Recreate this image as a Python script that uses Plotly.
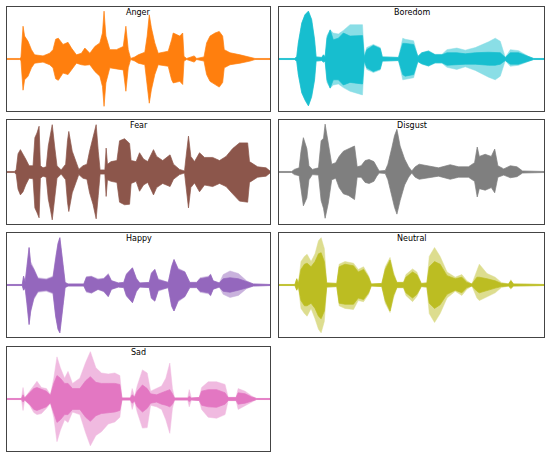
import plotly.graph_objects as go

# -----------------------------
# data: amplitude envelopes
# t = position in clip (% of duration), values = amplitude (fraction of full scale)
# -----------------------------

EMOTIONS = ["Anger", "Boredom", "Fear", "Disgust", "Happy", "Neutral", "Sad"]
COLORS = ["#ff7f0e", "#17becf", "#8c564b", "#7f7f7f", "#9467bd", "#bcbd22", "#e377c2"]

ANGER_T = [0, 4.8, 5.3, 5.6, 6.1, 6.7, 8.0, 9.3, 10.5, 13.7, 16.2, 17.5, 18.5, 19.5, 21.3, 23.2,
           24.5, 26.4, 28.3, 29.6, 31.5, 33.4, 35.3, 36.3, 36.9, 37.6, 39.1, 41.6, 44.2, 45.2,
           46.1, 47.0, 48.6, 49.9, 52.4, 53.3, 54.1, 54.9, 56.2, 57.5, 61.3, 62.6, 63.2, 65.7,
           66.8, 67.3, 68.3, 71.2, 72.1, 74.9, 75.9, 77.2, 79.1, 80.7, 82.0, 82.6, 84.8, 88.6,
           92.4, 94.3, 100]
ANGER_HI = [0.01, 0.01, 0.03, 0.31, 0.63, 0.44, 0.34, 0.18, 0.08, 0.06, 0.11, 0.18, 0.38, 0.40,
            0.28, 0.32, 0.21, 0.08, 0.11, 0.21, 0.11, 0.24, 0.31, 0.50, 0.92, 0.44, 0.18, 0.18,
            0.24, 0.63, 0.18, 0.01, 0.04, 0.08, 0.13, 0.44, 0.85, 0.60, 0.31, 0.11, 0.15, 0.37,
            0.50, 0.44, 0.50, 0.05, 0.01, 0.06, 0.01, 0.04, 0.31, 0.44, 0.50, 0.53, 0.44, 0.18,
            0.12, 0.08, 0.04, 0.01, 0.01]
ANGER_LO = [-0.01, -0.01, -0.03, -0.30, -0.60, -0.40, -0.33, -0.17, -0.08, -0.06, -0.11, -0.17,
            -0.38, -0.41, -0.27, -0.30, -0.20, -0.08, -0.11, -0.12, -0.11, -0.24, -0.33, -0.53,
            -0.91, -0.46, -0.17, -0.19, -0.21, -0.62, -0.17, -0.01, -0.04, -0.08, -0.11, -0.46,
            -0.85, -0.59, -0.30, -0.11, -0.14, -0.40, -0.46, -0.43, -0.49, -0.04, -0.01, -0.06,
            -0.01, -0.04, -0.30, -0.43, -0.49, -0.54, -0.45, -0.17, -0.11, -0.08, -0.04, -0.01,
            -0.01]

BOREDOM_T = [0, 6.0, 6.7, 7.3, 8.6, 9.8, 11.1, 12.3, 13.4, 14.0, 16.1, 16.8, 17.4, 18.1, 19.3,
             20.5, 22.4, 24.3, 26.8, 29.3, 31.5, 32.2, 33.1, 35.6, 38.2, 39.0, 45.1, 46.7, 47.6,
             50.8, 52.4, 53.9, 56.4, 58.9, 61.5, 63.4, 67.1, 70.3, 74.1, 79.1, 81.6, 83.5, 85.4,
             87.3, 90.4, 94.2, 96.1, 100]
BOREDOM_HI = [0.01, 0.01, 0.05, 0.31, 0.69, 0.85, 0.92, 0.76, 0.37, 0.04, 0.03, 0.08, 0.04, 0.40,
              0.56, 0.37, 0.40, 0.50, 0.44, 0.44, 0.45, 0.04, 0.18, 0.26, 0.20, 0.04, 0.03, 0.30,
              0.30, 0.28, 0.05, 0.12, 0.15, 0.08, 0.08, 0.12, 0.12, 0.10, 0.12, 0.13, 0.13, 0.12,
              0.03, 0.12, 0.12, 0.04, 0.01, 0.01]
BOREDOM_LO = [-0.01, -0.01, -0.05, -0.30, -0.65, -0.78, -0.90, -0.72, -0.40, -0.04, -0.03, -0.06,
              -0.04, -0.40, -0.56, -0.40, -0.40, -0.50, -0.45, -0.47, -0.48, -0.04, -0.17, -0.24,
              -0.19, -0.04, -0.03, -0.30, -0.33, -0.30, -0.05, -0.09, -0.13, -0.07, -0.07, -0.12,
              -0.11, -0.10, -0.10, -0.12, -0.12, -0.10, -0.03, -0.10, -0.10, -0.04, -0.01, -0.01]
BOREDOM_SOFT_HI = [0.01, 0.01, 0.05, 0.31, 0.69, 0.85, 0.92, 0.76, 0.40, 0.04, 0.03, 0.08, 0.04,
                   0.45, 0.56, 0.50, 0.48, 0.55, 0.66, 0.66, 0.66, 0.05, 0.22, 0.28, 0.22, 0.04,
                   0.03, 0.40, 0.38, 0.35, 0.05, 0.12, 0.16, 0.09, 0.09, 0.18, 0.21, 0.17, 0.22,
                   0.33, 0.40, 0.34, 0.03, 0.18, 0.16, 0.05, 0.01, 0.01]
BOREDOM_SOFT_LO = [-0.01, -0.01, -0.05, -0.30, -0.65, -0.80, -0.90, -0.74, -0.42, -0.04, -0.03,
                   -0.06, -0.04, -0.45, -0.56, -0.50, -0.48, -0.55, -0.62, -0.66, -0.69, -0.05,
                   -0.20, -0.26, -0.21, -0.04, -0.03, -0.40, -0.40, -0.36, -0.05, -0.10, -0.14,
                   -0.08, -0.08, -0.16, -0.20, -0.15, -0.22, -0.35, -0.40, -0.33, -0.03, -0.14,
                   -0.12, -0.05, -0.01, -0.01]

FEAR_T = [0, 2.9, 3.5, 4.2, 5.1, 6.1, 7.1, 8.4, 9.9, 10.6, 11.4, 12.2, 12.7, 13.7, 14.9, 15.7,
          16.5, 17.2, 18.1, 19.0, 20.6, 22.3, 23.0, 23.5, 24.8, 26.3, 27.3, 28.9, 30.4, 31.4,
          32.7, 33.9, 34.7, 35.4, 37.2, 37.7, 38.2, 39.6, 41.8, 42.8, 44.7, 46.6, 47.2, 49.1,
          50.4, 51.9, 53.5, 55.7, 56.9, 59.2, 62.0, 63.3, 65.6, 67.5, 68.1, 69.0, 69.9, 71.3,
          73.2, 75.1, 78.2, 80.8, 83.3, 85.8, 88.4, 91.5, 92.2, 95.3, 98.5, 100]
FEAR_HI = [0.01, 0.01, 0.05, 0.35, 0.43, 0.35, 0.25, 0.12, 0.12, 0.66, 0.75, 0.88, 0.12, 0.08,
           0.10, 0.50, 0.70, 0.91, 0.50, 0.12, 0.04, 0.15, 0.60, 0.78, 0.40, 0.20, 0.05, 0.12,
           0.15, 0.40, 0.65, 0.91, 0.40, 0.04, 0.04, 0.46, 0.15, 0.20, 0.22, 0.60, 0.64, 0.55,
           0.22, 0.20, 0.37, 0.25, 0.20, 0.43, 0.30, 0.22, 0.33, 0.15, 0.05, 0.02, 0.30, 0.69,
           0.30, 0.20, 0.37, 0.28, 0.28, 0.22, 0.30, 0.45, 0.56, 0.56, 0.20, 0.10, 0.08, 0.02]
FEAR_LO = [-0.01, -0.01, -0.05, -0.33, -0.44, -0.38, -0.25, -0.12, -0.13, -0.69, -0.78, -0.88,
           -0.12, -0.08, -0.10, -0.52, -0.72, -0.92, -0.55, -0.12, -0.04, -0.15, -0.58, -0.76,
           -0.40, -0.18, -0.05, -0.12, -0.14, -0.40, -0.62, -0.90, -0.45, -0.04, -0.04, -0.47,
           -0.15, -0.18, -0.20, -0.58, -0.63, -0.62, -0.22, -0.18, -0.37, -0.25, -0.20, -0.44,
           -0.30, -0.22, -0.28, -0.14, -0.05, -0.02, -0.30, -0.69, -0.30, -0.21, -0.38, -0.25,
           -0.28, -0.22, -0.28, -0.42, -0.56, -0.58, -0.20, -0.10, -0.08, -0.02]

DISGUST_T = [0, 4.8, 5.8, 7.6, 8.3, 9.2, 10.5, 11.3, 12.6, 14.9, 15.9, 16.8, 17.4, 18.6, 19.9,
             21.4, 22.7, 24.3, 26.2, 28.5, 29.5, 31.0, 32.5, 34.0, 35.8, 36.9, 37.8, 40.1, 41.1,
             42.6, 43.6, 44.5, 45.7, 47.4, 48.9, 50.1, 51.4, 52.9, 56.4, 60.2, 64.6, 67.8, 71.5,
             73.8, 74.8, 75.6, 77.8, 80.1, 81.4, 82.6, 84.8, 87.3, 89.8, 91.9, 100]
DISGUST_HI = [0.01, 0.01, 0.05, 0.08, 0.40, 0.66, 0.45, 0.12, 0.05, 0.08, 0.60, 0.65, 0.92, 0.55,
              0.15, 0.18, 0.30, 0.40, 0.45, 0.50, 0.10, 0.12, 0.22, 0.24, 0.20, 0.10, 0.02, 0.03,
              0.15, 0.47, 0.70, 0.82, 0.50, 0.25, 0.10, 0.02, 0.10, 0.15, 0.11, 0.08, 0.14, 0.10,
              0.10, 0.18, 0.48, 0.30, 0.34, 0.30, 0.44, 0.12, 0.06, 0.12, 0.10, 0.02, 0.01]
DISGUST_LO = [-0.01, -0.01, -0.05, -0.07, -0.35, -0.65, -0.50, -0.15, -0.05, -0.06, -0.55, -0.70,
              -0.89, -0.60, -0.15, -0.12, -0.30, -0.42, -0.45, -0.53, -0.10, -0.10, -0.20, -0.22,
              -0.18, -0.08, -0.02, -0.03, -0.15, -0.45, -0.68, -0.81, -0.55, -0.25, -0.10, -0.02,
              -0.10, -0.14, -0.11, -0.08, -0.14, -0.10, -0.10, -0.18, -0.48, -0.32, -0.35, -0.30,
              -0.40, -0.10, -0.06, -0.11, -0.09, -0.02, -0.01]

HAPPY_T = [0, 5.8, 6.3, 6.9, 7.6, 8.4, 9.0, 10.2, 11.8, 14.9, 17.5, 18.5, 19.4, 20.1, 21.1, 22.1,
           23.2, 29.2, 30.2, 32.1, 34.6, 36.8, 38.5, 39.7, 42.3, 44.4, 45.4, 47.7, 49.2, 50.5,
           54.1, 54.9, 56.2, 57.5, 61.3, 62.6, 63.5, 65.1, 67.6, 69.5, 72.1, 73.4, 76.6, 77.4,
           78.4, 80.7, 82.2, 84.8, 88.0, 91.1, 93.7, 100]
HAPPY_HI = [0.01, 0.01, 0.17, 0.06, 0.35, 0.72, 0.40, 0.30, 0.12, 0.10, 0.15, 0.55, 0.80, 0.91,
            0.45, 0.05, 0.02, 0.02, 0.15, 0.16, 0.10, 0.12, 0.20, 0.08, 0.04, 0.05, 0.20, 0.33,
            0.12, 0.04, 0.05, 0.22, 0.30, 0.10, 0.05, 0.35, 0.49, 0.30, 0.25, 0.05, 0.05, 0.12,
            0.15, 0.20, 0.08, 0.04, 0.12, 0.14, 0.12, 0.06, 0.02, 0.01]
HAPPY_LO = [-0.01, -0.01, -0.10, -0.06, -0.35, -0.76, -0.50, -0.25, -0.12, -0.10, -0.15, -0.60,
            -0.85, -0.92, -0.50, -0.05, -0.02, -0.02, -0.12, -0.15, -0.08, -0.12, -0.22, -0.08,
            -0.04, -0.05, -0.20, -0.34, -0.12, -0.04, -0.05, -0.25, -0.31, -0.10, -0.05, -0.40,
            -0.50, -0.30, -0.22, -0.05, -0.05, -0.12, -0.15, -0.20, -0.08, -0.04, -0.12, -0.14,
            -0.10, -0.05, -0.02, -0.01]
HAPPY_SOFT_HI = [0.01, 0.01, 0.17, 0.06, 0.40, 0.72, 0.45, 0.33, 0.14, 0.12, 0.17, 0.55, 0.80,
                 0.91, 0.48, 0.05, 0.02, 0.02, 0.16, 0.17, 0.12, 0.13, 0.22, 0.09, 0.04, 0.05, 0.22,
                 0.33, 0.13, 0.04, 0.05, 0.24, 0.30, 0.12, 0.05, 0.37, 0.49, 0.32, 0.26, 0.05, 0.05,
                 0.14, 0.17, 0.21, 0.08, 0.04, 0.20, 0.27, 0.22, 0.08, 0.02, 0.01]
HAPPY_SOFT_LO = [-0.01, -0.01, -0.10, -0.06, -0.40, -0.76, -0.52, -0.28, -0.14, -0.12, -0.17,
                 -0.60, -0.85, -0.92, -0.52, -0.05, -0.02, -0.02, -0.14, -0.16, -0.09, -0.13,
                 -0.23, -0.09, -0.04, -0.05, -0.22, -0.34, -0.13, -0.04, -0.05, -0.26, -0.31,
                 -0.12, -0.05, -0.42, -0.50, -0.32, -0.23, -0.05, -0.05, -0.14, -0.17, -0.21,
                 -0.08, -0.04, -0.18, -0.24, -0.20, -0.07, -0.02, -0.01]

NEUTRAL_T = [0, 6.0, 6.7, 7.3, 8.3, 9.6, 10.6, 12.1, 13.6, 14.9, 15.9, 17.1, 18.0, 21.8, 22.7,
             24.9, 28.1, 29.9, 31.9, 33.8, 34.8, 38.8, 40.1, 41.9, 43.2, 44.5, 47.0, 47.9, 50.4,
             52.0, 53.7, 55.8, 56.7, 58.7, 60.8, 63.4, 66.5, 69.0, 70.9, 72.8, 74.7, 75.6, 78.5,
             81.6, 83.9, 86.6, 87.5, 88.5, 100]
NEUTRAL_HI = [0.01, 0.01, 0.12, 0.03, 0.30, 0.40, 0.42, 0.35, 0.45, 0.60, 0.62, 0.45, 0.04, 0.03,
              0.35, 0.40, 0.37, 0.25, 0.30, 0.15, 0.02, 0.03, 0.30, 0.48, 0.20, 0.05, 0.05, 0.15,
              0.25, 0.20, 0.03, 0.04, 0.35, 0.45, 0.40, 0.18, 0.12, 0.15, 0.05, 0.02, 0.15, 0.15,
              0.12, 0.08, 0.03, 0.02, 0.08, 0.02, 0.01]
NEUTRAL_LO = [-0.01, -0.01, -0.10, -0.03, -0.30, -0.40, -0.40, -0.35, -0.45, -0.60, -0.65, -0.50,
              -0.04, -0.03, -0.35, -0.37, -0.37, -0.25, -0.28, -0.15, -0.02, -0.03, -0.30, -0.50,
              -0.20, -0.05, -0.05, -0.15, -0.25, -0.18, -0.03, -0.04, -0.35, -0.45, -0.38, -0.18,
              -0.10, -0.15, -0.05, -0.02, -0.12, -0.15, -0.10, -0.06, -0.03, -0.02, -0.06, -0.02,
              -0.01]
NEUTRAL_SOFT_HI = [0.01, 0.01, 0.12, 0.03, 0.45, 0.55, 0.59, 0.45, 0.60, 0.85, 0.91, 0.70, 0.04,
                   0.03, 0.40, 0.45, 0.42, 0.30, 0.35, 0.18, 0.02, 0.03, 0.35, 0.53, 0.25, 0.05,
                   0.05, 0.20, 0.31, 0.25, 0.03, 0.04, 0.55, 0.72, 0.55, 0.25, 0.15, 0.20, 0.08,
                   0.02, 0.28, 0.40, 0.22, 0.15, 0.05, 0.02, 0.10, 0.02, 0.01]
NEUTRAL_SOFT_LO = [-0.01, -0.01, -0.10, -0.03, -0.45, -0.55, -0.60, -0.45, -0.65, -0.85, -0.92,
                   -0.70, -0.04, -0.03, -0.40, -0.45, -0.47, -0.30, -0.32, -0.18, -0.02, -0.03,
                   -0.35, -0.53, -0.25, -0.05, -0.05, -0.20, -0.32, -0.22, -0.03, -0.04, -0.55,
                   -0.72, -0.55, -0.25, -0.12, -0.20, -0.08, -0.02, -0.25, -0.30, -0.22, -0.15,
                   -0.05, -0.02, -0.08, -0.02, -0.01]

SAD_T = [0, 5.5, 6.1, 6.7, 8.6, 10.2, 11.4, 13.1, 15.0, 16.5, 17.8, 19.0, 20.3, 21.9, 23.2, 24.9,
         27.7, 29.9, 31.7, 33.8, 35.9, 38.5, 41.0, 42.9, 43.7, 46.9, 47.6, 48.5, 49.5, 51.5, 53.3,
         54.6, 56.9, 58.8, 60.4, 61.9, 62.9, 63.7, 68.7, 69.3, 70.1, 73.1, 74.0, 76.5, 79.7, 82.9,
         84.1, 87.1, 87.9, 90.5, 93.0, 94.9, 100]
SAD_HI = [0.01, 0.01, 0.08, 0.02, 0.12, 0.20, 0.22, 0.18, 0.15, 0.07, 0.30, 0.45, 0.40, 0.30,
          0.30, 0.20, 0.20, 0.35, 0.43, 0.32, 0.30, 0.30, 0.30, 0.28, 0.02, 0.02, 0.08, 0.04, 0.15,
          0.27, 0.20, 0.10, 0.08, 0.12, 0.15, 0.18, 0.10, 0.02, 0.02, 0.05, 0.02, 0.03, 0.15, 0.18,
          0.18, 0.12, 0.03, 0.03, 0.12, 0.10, 0.04, 0.01, 0.01]
SAD_LO = [-0.01, -0.01, -0.06, -0.02, -0.10, -0.20, -0.22, -0.18, -0.15, -0.07, -0.28, -0.45,
          -0.40, -0.30, -0.30, -0.20, -0.20, -0.35, -0.43, -0.32, -0.28, -0.26, -0.25, -0.22,
          -0.02, -0.02, -0.08, -0.04, -0.15, -0.25, -0.18, -0.08, -0.06, -0.10, -0.12, -0.15,
          -0.10, -0.02, -0.02, -0.05, -0.02, -0.03, -0.12, -0.15, -0.16, -0.10, -0.03, -0.03,
          -0.10, -0.08, -0.04, -0.01, -0.01]
SAD_SOFT_HI = [0.01, 0.01, 0.22, 0.02, 0.15, 0.26, 0.34, 0.22, 0.20, 0.08, 0.40, 0.81, 0.60, 0.40,
               0.53, 0.30, 0.40, 0.70, 0.91, 0.60, 0.50, 0.48, 0.50, 0.45, 0.02, 0.02, 0.20, 0.04,
               0.25, 0.56, 0.50, 0.15, 0.20, 0.25, 0.40, 0.69, 0.20, 0.02, 0.02, 0.18, 0.02, 0.03,
               0.22, 0.33, 0.33, 0.28, 0.03, 0.03, 0.20, 0.15, 0.06, 0.01, 0.01]
SAD_SOFT_LO = [-0.01, -0.01, -0.22, -0.02, -0.12, -0.26, -0.30, -0.28, -0.18, -0.08, -0.35, -0.82,
               -0.60, -0.40, -0.45, -0.25, -0.30, -0.65, -0.90, -0.70, -0.63, -0.48, -0.44, -0.35,
               -0.02, -0.02, -0.20, -0.04, -0.25, -0.56, -0.55, -0.12, -0.15, -0.20, -0.40, -0.66,
               -0.18, -0.02, -0.02, -0.15, -0.02, -0.03, -0.20, -0.35, -0.37, -0.30, -0.03, -0.03,
               -0.20, -0.14, -0.06, -0.01, -0.01]

PANELS = [
    (ANGER_T, ANGER_HI, ANGER_LO, None, None),
    (BOREDOM_T, BOREDOM_HI, BOREDOM_LO, BOREDOM_SOFT_HI, BOREDOM_SOFT_LO),
    (FEAR_T, FEAR_HI, FEAR_LO, None, None),
    (DISGUST_T, DISGUST_HI, DISGUST_LO, None, None),
    (HAPPY_T, HAPPY_HI, HAPPY_LO, HAPPY_SOFT_HI, HAPPY_SOFT_LO),
    (NEUTRAL_T, NEUTRAL_HI, NEUTRAL_LO, NEUTRAL_SOFT_HI, NEUTRAL_SOFT_LO),
    (SAD_T, SAD_HI, SAD_LO, SAD_SOFT_HI, SAD_SOFT_LO),
]

# -----------------------------
# layout helpers (panel boxes in paper fractions)
# -----------------------------
W, H = 550, 459
COL_X = [(7 / W, 270 / W), (279 / W, 544 / W)]
ROW_Y = [(1 - 111 / H, 1 - 7 / H), (1 - 224 / H, 1 - 120 / H),
         (1 - 337 / H, 1 - 233 / H), (1 - 451 / H, 1 - 347 / H)]


def envelope(t, hi, lo):
    return list(t) + list(t)[::-1], list(hi) + list(lo)[::-1]


fig = go.Figure()
annotations = []

for i, (name, color, (t, hi, lo, shi, slo)) in enumerate(zip(EMOTIONS, COLORS, PANELS)):
    n = i + 1
    xa, ya = ("x", "y") if n == 1 else (f"x{n}", f"y{n}")
    if shi is not None:
        xs, ys = envelope(t, shi, slo)
        fig.add_trace(go.Scatter(x=xs, y=ys, fill="toself", fillcolor=color, opacity=0.5,
                                 line=dict(color=color, width=0.5), mode="lines",
                                 xaxis=xa, yaxis=ya, showlegend=False, hoverinfo="skip"))
    xs, ys = envelope(t, hi, lo)
    fig.add_trace(go.Scatter(x=xs, y=ys, fill="toself", fillcolor=color,
                             line=dict(color=color, width=0.7), mode="lines",
                             xaxis=xa, yaxis=ya, showlegend=False, hoverinfo="skip"))

    row, col = divmod(i, 2)
    x0, x1 = COL_X[col]
    y0, y1 = ROW_Y[row]
    axis_style = dict(showticklabels=False, ticks="", showgrid=False, zeroline=False,
                      showline=True, mirror=True, linecolor="#444", linewidth=1)
    fig.layout[f"xaxis{n}"] = dict(domain=[x0, x1], range=[0, 100], anchor=ya, **axis_style)
    fig.layout[f"yaxis{n}"] = dict(domain=[y0, y1], range=[-1, 1], anchor=xa, **axis_style)
    annotations.append(dict(text=name, x=(x0 + x1) / 2, y=y1 - 5 / H, xref="paper", yref="paper",
                            xanchor="center", yanchor="middle", showarrow=False,
                            font=dict(family="DejaVu Sans", size=8, color="#000")))

fig.update_layout(width=W, height=H, margin=dict(l=0, r=0, t=0, b=0),
                  paper_bgcolor="white", plot_bgcolor="white",
                  annotations=annotations)

# page body has a default margin; drop it so the figure fills the window
fig.write_html("out.html", config={"displayModeBar": False},
               post_script="document.body.style.margin='0';")
